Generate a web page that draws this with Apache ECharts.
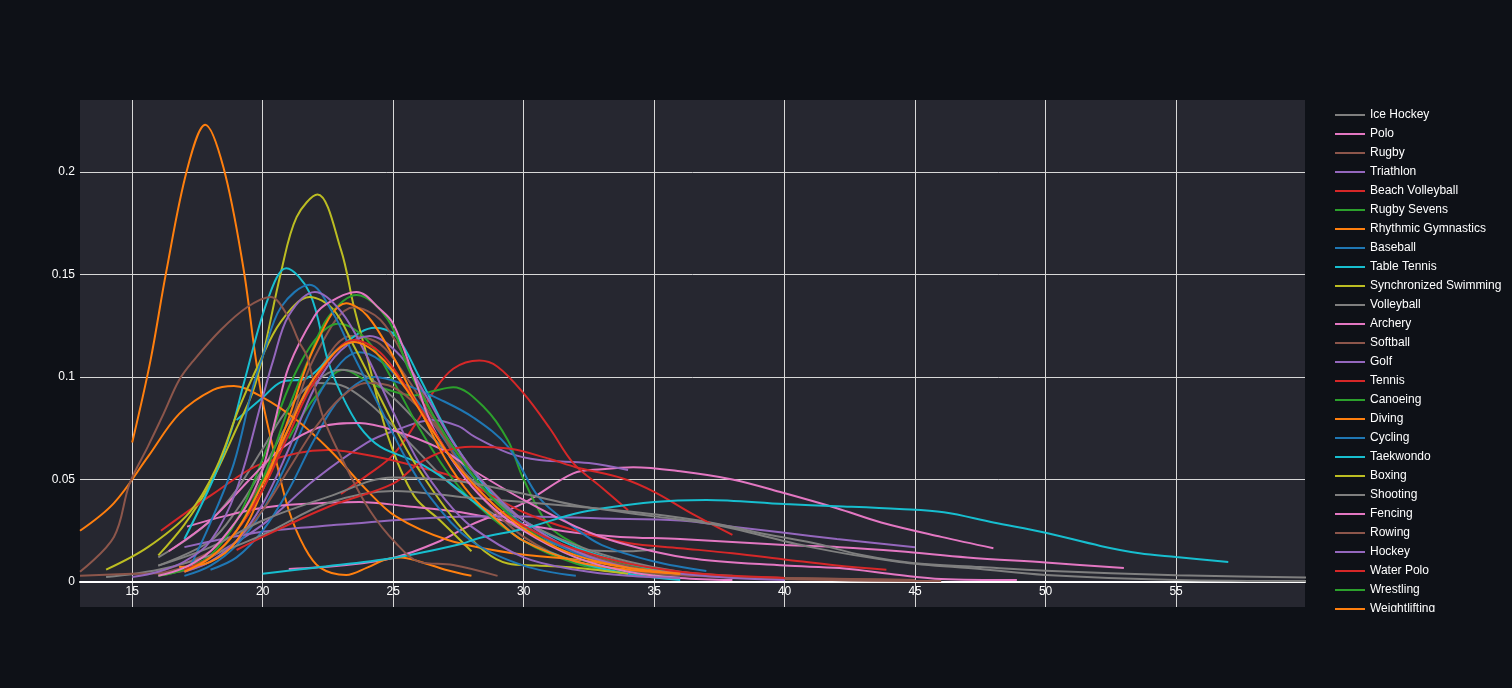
<!DOCTYPE html>
<html>
<head>
<meta charset="utf-8">
<script src="https://cdn.jsdelivr.net/npm/echarts@6/dist/echarts.min.js"></script>
<style>
html,body{margin:0;padding:0;background:#0e1117;}
#chart{width:1512px;height:688px;}
</style>
</head>
<body>
<div id="chart"></div>
<script>
// ---- tick labels ----
const xTicks = [15, 20, 25, 30, 35, 40, 45, 50, 55];
const yTicks = [0, 0.05, 0.1, 0.15, 0.2];

// ---- density curves: [age, density] ----
const iceHockey = [[16,0.012],[17,0.02],[18,0.03],[19,0.045],[20,0.065],[21,0.085],[22.1,0.097],[23,0.096],[24,0.088],[25,0.076],[26,0.063],[27,0.05],[28,0.04],[30,0.025],[32,0.016],[34,0.015],[35,0.016]];
const polo = [[21,0.0063],[23,0.008],[25,0.0117],[26.8,0.02],[28,0.028],[30,0.0385],[31.9,0.053],[33,0.055],[34.2,0.056],[36,0.054],[38,0.05],[39.8,0.044],[42,0.036],[43.7,0.029],[46,0.022],[48,0.0165]];
const rugby = [[16,0.005],[18,0.015],[19,0.03],[20,0.05],[21,0.075],[22,0.1],[23.4,0.12],[24.5,0.116],[25.5,0.1],[26.5,0.08],[27.5,0.06],[29,0.038],[30.5,0.024],[32,0.015],[34,0.008],[36,0.004],[40,0.002],[45,0.001]];
const triathlon = [[18,0.012],[20,0.028],[22,0.05],[24,0.068],[25.1,0.074],[26.5,0.079],[27.5,0.076],[28.1,0.071],[29.4,0.063],[30.6,0.0595],[32.5,0.058],[34,0.0546]];
const beachVolleyball = [[23,0.043],[24,0.052],[25,0.062],[26,0.08],[26.5,0.092],[27.3,0.104],[28.3,0.108],[29,0.105],[30,0.092],[31,0.075],[31.9,0.058],[33,0.046],[34,0.035]];
const rugbySevens = [[21,0.07],[22,0.09],[23.1,0.1035],[24,0.098],[24.5,0.095],[25.8,0.091],[26.5,0.093],[27.3,0.095],[28.5,0.085],[29.4,0.069],[30,0.05],[31,0.027],[32.2,0.017],[33,0.012],[35,0.006]];
const rhythmicGymnastics = [[15,0.068],[15.7,0.108],[16.3,0.151],[17.1,0.201],[17.8,0.223],[18.5,0.202],[19.25,0.154],[19.7,0.112],[20,0.088],[20.5,0.06],[21,0.035],[21.6,0.017],[22.2,0.007],[23.2,0.0034],[24,0.007],[24.7,0.011],[25.3,0.012],[26,0.01],[27,0.006],[28,0.003]];
const baseball = [[17,0.003],[18,0.008],[19,0.018],[20,0.035],[21,0.06],[22,0.088],[23,0.107],[23.7,0.112],[24.5,0.108],[25.5,0.095],[26.5,0.078],[27.5,0.06],[28.5,0.045],[30,0.028],[32,0.014],[34,0.007],[36,0.003]];
const tableTennis = [[19,0.079],[20,0.09],[20.7,0.0975],[21.7,0.0995],[23,0.115],[24.3,0.124],[25.1,0.12],[26,0.1],[27,0.075],[28,0.055],[29,0.04],[30,0.03],[32,0.017],[34,0.009],[36,0.004]];
const synchronizedSwimming = [[16,0.013],[17,0.028],[18,0.048],[19,0.075],[19.6,0.092],[20,0.11],[20.7,0.151],[21.3,0.178],[22.1,0.189],[23,0.162],[23.5,0.134],[24,0.11],[24.8,0.071],[25.8,0.042],[26.8,0.03],[28,0.015]];
const volleyball = [[16,0.008],[18,0.02],[19,0.035],[20,0.055],[21,0.078],[22,0.097],[23,0.1035],[24,0.1],[25,0.09],[26,0.077],[27,0.064],[28,0.05],[30,0.03],[32,0.018],[34,0.01],[36,0.005],[38,0.003]];
const archery = [[17.1,0.027],[18.5,0.032],[19.9,0.036],[21.5,0.038],[23.7,0.039],[25.5,0.037],[27.6,0.034],[30,0.028],[32,0.024],[33.7,0.022],[36,0.021],[40,0.018],[42.1,0.017],[44.4,0.015],[47,0.012],[50,0.0095],[53,0.0068]];
const softball = [[16,0.004],[18,0.012],[19,0.025],[20,0.045],[21,0.075],[22,0.11],[23.5,0.134],[24.5,0.128],[25.5,0.108],[26.5,0.082],[27.5,0.058],[28.5,0.04],[30,0.022],[32,0.01],[35,0.004],[40,0.002],[45,0.001]];
const golf = [[17,0.017],[20,0.0245],[23,0.028],[26,0.031],[28,0.032],[30,0.032],[33,0.031],[36,0.03],[38,0.027],[40,0.024],[42,0.021],[45,0.017]];
const tennis = [[16.1,0.025],[18.1,0.043],[20,0.058],[22.5,0.0644],[24.4,0.061],[26,0.056],[27.6,0.05],[30,0.034],[32,0.025],[34,0.019],[36,0.0165],[38,0.014],[40,0.011],[42,0.008],[43.9,0.006]];
const canoeing = [[16,0.003],[17,0.006],[18,0.013],[19,0.03],[20,0.06],[21,0.095],[22,0.118],[22.9,0.126],[24,0.118],[25,0.098],[26,0.075],[27,0.055],[28,0.04],[30,0.02],[32,0.009],[34,0.004]];
const diving = [[13,0.025],[14.3,0.0385],[15.6,0.061],[16.8,0.082],[18.1,0.0937],[18.9,0.0956],[20,0.09],[21.3,0.079],[22.6,0.064],[23.9,0.046],[25.1,0.032],[27.1,0.0205],[29.6,0.014],[32.2,0.0107],[34,0.007],[36,0.0044]];
const cycling = [[18,0.006],[19,0.012],[20,0.025],[21,0.045],[22,0.07],[23,0.09],[24.3,0.1],[25.5,0.096],[26.8,0.089],[28.1,0.08],[29.4,0.066],[30.6,0.041],[31.9,0.027],[33,0.018],[35,0.01],[37,0.0054]];
const taekwondo = [[17,0.021],[18.1,0.05],[18.8,0.074],[19.3,0.098],[20.2,0.138],[20.9,0.153],[21.8,0.141],[22.5,0.108],[23,0.092],[23.7,0.076],[24.5,0.066],[26,0.058],[27,0.05],[28,0.04],[29,0.03],[30,0.02],[32,0.01],[34,0.004],[36,0.001]];
const boxing = [[14,0.006],[15.6,0.017],[17.2,0.034],[18.2,0.055],[19.1,0.085],[19.8,0.105],[20.7,0.127],[21.8,0.139],[22.7,0.133],[23.5,0.115],[24.5,0.09],[25.5,0.065],[26.5,0.045],[27.5,0.028],[28.5,0.015],[29.4,0.009],[30.5,0.008],[32,0.007],[34,0.004]];
const shooting = [[14,0.0024],[16,0.006],[18,0.013],[20,0.023],[22.5,0.0385],[25,0.0444],[27.6,0.0415],[30,0.039],[32.2,0.0366],[35,0.033],[37.3,0.0287],[39,0.024],[41.1,0.019],[43,0.013],[44.9,0.0093],[47.5,0.0073],[50,0.0055],[55,0.0033],[60,0.0022],[65,0.001]];
const fencing = [[16.4,0.015],[18,0.03],[19.5,0.05],[20.7,0.065],[22.2,0.0756],[23.7,0.0775],[25,0.074],[26.8,0.065],[28,0.055],[30,0.04],[32,0.027],[33.7,0.019],[36.3,0.0117],[40,0.008],[42.1,0.0068],[44.4,0.0034],[46,0.0015],[48.9,0.001]];
const rowing = [[13,0.003],[15,0.004],[16.8,0.005],[18,0.01],[19,0.02],[20,0.035],[21,0.055],[22,0.075],[23,0.09],[24,0.097],[25,0.095],[26,0.085],[27,0.07],[28,0.055],[30,0.03],[32,0.015],[35,0.005],[40,0.0015],[46,0.0005]];
const hockey = [[17,0.005],[18,0.01],[19,0.02],[20,0.038],[21,0.065],[22,0.095],[23,0.113],[24.1,0.12],[25.3,0.11],[26.3,0.09],[27.3,0.068],[28.5,0.048],[30,0.03],[32,0.015],[34,0.007],[36,0.004],[38,0.002],[40,0.001]];
const waterPolo = [[19,0.0156],[20,0.022],[22.5,0.0366],[25,0.048],[26,0.058],[27,0.064],[28,0.066],[29.5,0.065],[31,0.06],[32,0.056],[33.8,0.0505],[35,0.044],[36.5,0.033],[38,0.023]];
const wrestling = [[16,0.003],[17,0.006],[18,0.012],[19,0.025],[20,0.05],[21,0.085],[21.8,0.11],[22.5,0.129],[23.6,0.14],[24.8,0.128],[25.6,0.1035],[26.5,0.082],[27.5,0.062],[28.5,0.045],[30,0.027],[32,0.012],[34,0.005],[36,0.002]];
const weightlifting = [[16.8,0.0073],[18,0.0098],[19,0.02],[20,0.045],[21,0.08],[22,0.115],[23.2,0.136],[24,0.13],[25,0.11],[26,0.085],[27,0.06],[28,0.042],[29,0.03],[30,0.02],[32,0.01],[34,0.006],[36,0.004]];
const handball = [[17.2,0.007],[18,0.029],[18.9,0.058],[19.6,0.094],[20,0.11],[20.7,0.134],[21.8,0.145],[22.7,0.131],[23.5,0.11],[24.5,0.085],[25.5,0.06],[26.5,0.04],[28,0.02],[30,0.008],[32,0.003]];
const equestrianism = [[20,0.004],[22,0.007],[25,0.0117],[27.6,0.0185],[28.3,0.0215],[30,0.026],[32.2,0.034],[35,0.039],[37,0.04],[40,0.038],[42,0.037],[44.4,0.0356],[46.1,0.034],[48,0.029],[50,0.024],[52.1,0.0176],[53.6,0.014],[55,0.0122],[57,0.0098]];
const sailing = [[16,0.008],[18,0.017],[20,0.03],[22.5,0.0415],[25,0.051],[27.6,0.049],[30,0.043],[32.2,0.037],[35,0.032],[37.3,0.028],[41,0.017],[44.4,0.0098],[47.5,0.0063],[50,0.0034],[55,0.001],[60,0.0005]];
const modernPentathlon = [[16,0.003],[17,0.007],[18,0.015],[19,0.03],[19.5,0.04],[20,0.055],[20.5,0.08],[21,0.105],[22,0.13],[22.5,0.136],[23.6,0.1415],[24.5,0.133],[25,0.126],[25.8,0.1],[26.5,0.076],[27.5,0.055],[28.5,0.04],[30,0.025],[32,0.012],[34,0.005],[36,0.002],[38,0.001]];
const swimming = [[13,0.005],[14.3,0.022],[14.9,0.048],[15.6,0.066],[16.2,0.082],[16.8,0.0985],[17.35,0.108],[18.4,0.123],[19.4,0.134],[20.3,0.139],[20.9,0.131],[21.4,0.117],[21.7,0.11],[22.3,0.081],[23.2,0.056],[24.1,0.035],[25.1,0.019],[26,0.0098],[27.3,0.0083],[29,0.003]];
const judo = [[15,0.0024],[16,0.005],[17,0.01],[18,0.02],[19,0.045],[20,0.09],[20.4,0.108],[21,0.13],[22,0.1415],[23,0.132],[24,0.11],[25,0.083],[26,0.058],[27,0.04],[28,0.027],[30,0.012],[32,0.006],[34,0.003],[36,0.002]];
const football = [[17,0.006],[18,0.012],[19,0.025],[20,0.045],[21,0.072],[22,0.098],[23.5,0.118],[24.5,0.112],[25.5,0.095],[26.5,0.075],[27.5,0.056],[29,0.036],[30.5,0.024],[32,0.016],[34,0.009],[36,0.005],[38,0.003],[40,0.002]];
const basketball = [[17,0.005],[18,0.012],[19,0.025],[20,0.048],[21,0.075],[22,0.1],[23.5,0.117],[24.5,0.11],[25.5,0.094],[26.5,0.074],[27.5,0.056],[29,0.036],[30.5,0.022],[32,0.013],[34,0.007],[36,0.004]];

const sportNames = ['Ice Hockey','Polo','Rugby','Triathlon','Beach Volleyball','Rugby Sevens','Rhythmic Gymnastics','Baseball','Table Tennis','Synchronized Swimming','Volleyball','Archery','Softball','Golf','Tennis','Canoeing','Diving','Cycling','Taekwondo','Boxing','Shooting','Fencing','Rowing','Hockey','Water Polo','Wrestling','Weightlifting','Handball','Equestrianism','Sailing','Modern Pentathlon','Swimming','Judo','Football','Basketball'];
const sportData = [iceHockey,polo,rugby,triathlon,beachVolleyball,rugbySevens,rhythmicGymnastics,baseball,tableTennis,synchronizedSwimming,volleyball,archery,softball,golf,tennis,canoeing,diving,cycling,taekwondo,boxing,shooting,fencing,rowing,hockey,waterPolo,wrestling,weightlifting,handball,equestrianism,sailing,modernPentathlon,swimming,judo,football,basketball];

// ---- styles ----
const palette = ['#7f7f7f','#e377c2','#8c564b','#9467bd','#d62728','#2ca02c','#ff7f0e','#1f77b4','#17becf','#bcbd22'];
const extraColors = ['#1f77b4','#17becf','#7f7f7f','#e377c2','#8c564b','#9467bd','#d62728','#ff7f0e'];
const sportColors = sportNames.map((n, i) => i < 27 ? palette[i % 10] : extraColors[i - 27]);

const chart = echarts.init(document.getElementById('chart'));
const series = sportNames.map((name, i) => ({
  name: name,
  type: 'line',
  data: sportData[i],
  symbol: 'none',
  smooth: 0.35,
  clip: true,
  color: sportColors[i],
  itemStyle: { color: sportColors[i] },
  lineStyle: { width: 2, color: sportColors[i] },
  emphasis: { disabled: true }
}));

const option = {
  backgroundColor: '#0e1117',
  animation: false,
  textStyle: { fontFamily: 'Arial, "Liberation Sans", sans-serif' },
  grid: { left: 80, right: 207, top: 100, bottom: 81, show: true, backgroundColor: '#262730', borderWidth: 0 },
  xAxis: {
    type: 'value', min: 13, max: 59.94,
    axisLine: { show: true, onZero: true, lineStyle: { color: '#ffffff', width: 2 } },
    axisTick: { show: false, customValues: xTicks },
    axisLabel: { customValues: xTicks, color: '#ffffff', fontSize: 12, margin: -21 },
    splitLine: { show: true, lineStyle: { color: '#d8d8d8', width: 1 } }
  },
  yAxis: {
    type: 'value', min: -0.0122, max: 0.2351,
    axisLine: { show: false },
    axisTick: { show: false, customValues: yTicks },
    axisLabel: { customValues: yTicks, color: '#ffffff', fontSize: 12, margin: 5 },
    splitLine: { show: true, lineStyle: { color: '#d8d8d8', width: 1 } }
  },
  legend: {
    type: 'scroll', orient: 'vertical', left: 1330, top: 104, height: 580,
    icon: 'rect', itemWidth: 30, itemHeight: 2, itemGap: 7,
    textStyle: { color: '#ffffff', fontSize: 12 },
    pageIconSize: 0, pageTextStyle: { color: 'rgba(0,0,0,0)' }, pageButtonItemGap: 0,
    data: sportNames
  },
  graphic: [{
    type: 'rect', z: 100, silent: true,
    shape: { x: 1312, y: 612, width: 200, height: 76 },
    style: { fill: '#0e1117' }
  }],
  series: series
};
chart.setOption(option);
</script>
</body>
</html>
